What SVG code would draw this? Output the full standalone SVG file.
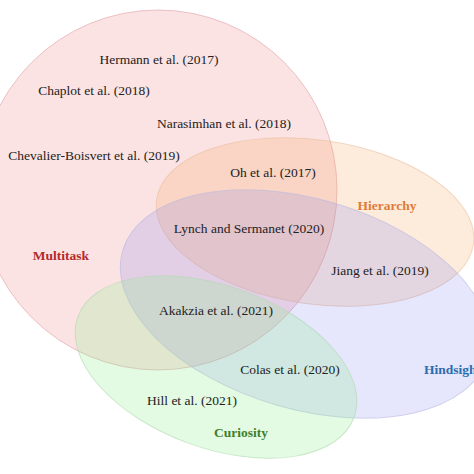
<svg xmlns="http://www.w3.org/2000/svg" width="474" height="474" viewBox="0 0 474 474">
<style>
.t{font-family:"Liberation Serif","Times New Roman",serif;font-size:13.5px;fill:#222;text-anchor:middle}
.b{font-family:"Liberation Serif","Times New Roman",serif;font-size:13.5px;font-weight:bold;text-anchor:middle}
.set{stroke-width:1}
</style>
<rect width="474" height="474" fill="#ffffff"/>
<g id="multitask">
<ellipse class="set" cx="158" cy="190" rx="179" ry="180" fill="#f08080" fill-opacity="0.22" stroke="#e0a0a8" stroke-opacity="0.6"/>
</g>
<g id="hierarchy">
<ellipse class="set" cx="315" cy="222" rx="160" ry="82" transform="rotate(8 315 222)" fill="#f5a050" fill-opacity="0.2" stroke="#e8c0a0" stroke-opacity="0.6"/>
</g>
<g id="hindsight">
<ellipse class="set" cx="305" cy="304" rx="190" ry="105" transform="rotate(16.4 305 304)" fill="#8080f0" fill-opacity="0.2" stroke="#b8b8e0" stroke-opacity="0.6"/>
</g>
<g id="curiosity">
<ellipse class="set" cx="216" cy="367" rx="147" ry="81" transform="rotate(20 216 367)" fill="#90ee90" fill-opacity="0.25" stroke="#b0d8b0" stroke-opacity="0.6"/>
</g>
<g id="labels">
<text class="t" x="159" y="64">Hermann et al. (2017)</text>
<text class="t" x="94" y="95">Chaplot et al. (2018)</text>
<text class="t" x="224" y="128">Narasimhan et al. (2018)</text>
<text class="t" x="94" y="160">Chevalier-Boisvert et al. (2019)</text>
<text class="t" x="273" y="177">Oh et al. (2017)</text>
<text class="b" x="387" y="210" fill="#e07b39">Hierarchy</text>
<text class="t" x="249" y="233">Lynch and Sermanet (2020)</text>
<text class="b" x="61" y="260" fill="#b22a2a">Multitask</text>
<text class="t" x="380" y="275">Jiang et al. (2019)</text>
<text class="t" x="216" y="315">Akakzia et al. (2021)</text>
<text class="t" x="290" y="374">Colas et al. (2020)</text>
<text class="b" x="424" y="374" fill="#2a6db0" style="text-anchor:start">Hindsight</text>
<text class="t" x="192" y="405">Hill et al. (2021)</text>
<text class="b" x="241" y="437" fill="#3f7f2a">Curiosity</text>
</g>
</svg>
